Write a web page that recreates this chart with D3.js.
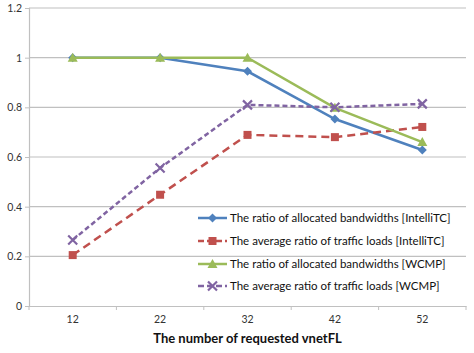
<!DOCTYPE html>
<html><head><meta charset="utf-8">
<script src="https://cdnjs.cloudflare.com/ajax/libs/d3/7.8.5/d3.min.js"></script>
<style>html,body{margin:0;padding:0;background:#fff;}svg{display:block;}</style>
</head><body>
<svg id="c" width="474" height="353"></svg>
<script>
const categories = ["12", "22", "32", "42", "52"];
const yTicks = [0, 0.2, 0.4, 0.6, 0.8, 1, 1.2];
const bwIntelliTC = [1, 1, 0.945, 0.753, 0.628];
const loadIntelliTC = [0.205, 0.448, 0.689, 0.680, 0.721];
const bwWCMP = [1, 1, 1, 0.798, 0.660];
const loadWCMP = [0.266, 0.556, 0.810, 0.800, 0.814];
const seriesNames = [
  "The ratio of allocated bandwidths [IntelliTC]",
  "The average ratio of traffic loads [IntelliTC]",
  "The ratio of allocated bandwidths [WCMP]",
  "The average ratio of traffic loads [WCMP]"
];
const xTitle = "The number of requested vnetFL";

const series = [
  {name: seriesNames[0], values: bwIntelliTC, color: "#4F81BD", dash: null, marker: "diamond"},
  {name: seriesNames[1], values: loadIntelliTC, color: "#C0504D", dash: "8,5", marker: "square"},
  {name: seriesNames[2], values: bwWCMP, color: "#9BBB59", dash: null, marker: "triangle"},
  {name: seriesNames[3], values: loadWCMP, color: "#8064A2", dash: "5,3", marker: "x"}
];

const svg = d3.select("#c");
const L = 29, R = 466, T = 8, B = 306;
const x = d3.scaleBand().domain(categories).range([L, R]);
const y = d3.scaleLinear().domain([0, 1.2]).range([B, T]);
const font = "Lato, 'Open Sans', sans-serif";
const gridColor = "#c0c0c0";

// gridlines
svg.append("g").selectAll("line").data(yTicks.filter(d => d > 0)).join("line")
  .attr("x1", L).attr("x2", R).attr("y1", d => y(d)).attr("y2", d => y(d))
  .attr("stroke", gridColor).attr("stroke-width", 1.2);

// y axis
const yAxis = svg.append("g").attr("transform", `translate(${L},0)`)
  .call(d3.axisLeft(y).tickValues(yTicks).tickSize(4).tickPadding(3).tickFormat(d3.format("~g")));
yAxis.select(".domain").attr("stroke", gridColor).attr("stroke-width", 1.2);
yAxis.selectAll(".tick line").attr("stroke", gridColor);
yAxis.selectAll("text").attr("font-family", font).attr("font-size", 10.5).attr("fill", "#333");

// x axis
const xAxis = svg.append("g").attr("transform", `translate(0,${B})`)
  .call(d3.axisBottom(x).tickSize(0).tickPadding(10));
xAxis.select(".domain").attr("stroke", gridColor).attr("stroke-width", 1.2);
xAxis.selectAll("text").attr("font-family", font).attr("font-size", 10.5).attr("fill", "#333");
const bounds = categories.map(c => x(c)).concat([x(categories[categories.length-1]) + x.bandwidth()]);
xAxis.append("g").selectAll("line").data(bounds).join("line")
  .attr("x1", d => d).attr("x2", d => d).attr("y1", 0).attr("y2", 4)
  .attr("stroke", gridColor);

svg.append("text").attr("x", (L + R) / 2).attr("y", 343)
  .attr("text-anchor", "middle").attr("font-family", font)
  .attr("font-weight", "bold").attr("font-size", 13).attr("fill", "#111").text(xTitle);

const cx = c => x(c) + x.bandwidth() / 2;

function drawMarker(g, type, px, py, color) {
  if (type === "diamond") {
    g.append("path").attr("d", `M${px},${py-4.5}L${px+4.5},${py}L${px},${py+4.5}L${px-4.5},${py}Z`).attr("fill", color);
  } else if (type === "square") {
    g.append("rect").attr("x", px-4).attr("y", py-4).attr("width", 8).attr("height", 8).attr("fill", color);
  } else if (type === "triangle") {
    g.append("path").attr("d", `M${px},${py-5}L${px+5},${py+4}L${px-5},${py+4}Z`).attr("fill", color);
  } else if (type === "x") {
    g.append("path").attr("d", `M${px-4.5},${py-4.5}L${px+4.5},${py+4.5}M${px+4.5},${py-4.5}L${px-4.5},${py+4.5}`)
      .attr("stroke", color).attr("stroke-width", 2.2).attr("fill", "none");
  }
}

const line = d3.line().x((d, i) => cx(categories[i])).y(d => y(d));
series.forEach(s => {
  const g = svg.append("g");
  g.append("path").datum(s.values).attr("d", line)
    .attr("fill", "none").attr("stroke", s.color).attr("stroke-width", 2.5)
    .attr("stroke-dasharray", s.dash);
  s.values.forEach((v, i) => drawMarker(g, s.marker, cx(categories[i]), y(v), s.color));
});

// legend
const legY = [218, 241, 264, 286];
series.forEach((s, i) => {
  const g = svg.append("g");
  const ly = legY[i];
  g.append("line").attr("x1", 198).attr("x2", 227).attr("y1", ly).attr("y2", ly)
    .attr("stroke", s.color).attr("stroke-width", 2.5).attr("stroke-dasharray", s.dash ? "6,3" : null);
  drawMarker(g, s.marker, 212.5, ly, s.color);
  g.append("text").attr("x", 230).attr("y", ly + 4).attr("font-family", font)
    .attr("font-size", 11.5).attr("fill", "#111").text(s.name);
});
</script>
</body></html>
